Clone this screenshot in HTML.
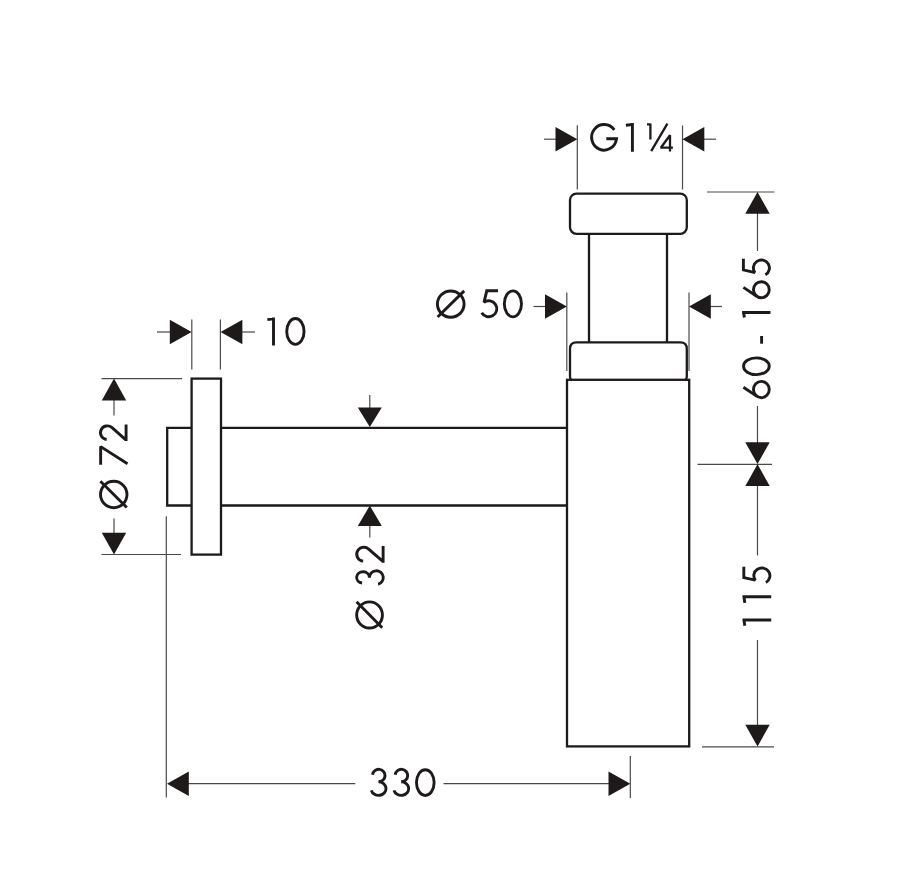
<!DOCTYPE html>
<html><head><meta charset="utf-8"><style>
html,body{margin:0;padding:0;background:#fff;width:916px;height:882px;overflow:hidden;font-family:"Liberation Sans",sans-serif;}
svg{display:block}
</style></head><body>
<svg width="916" height="882" viewBox="0 0 916 882">
<rect width="916" height="882" fill="#fff"/>
<g stroke="#4a4a4a" fill="none" stroke-linecap="butt"><line x1="577.30" y1="125.30" x2="577.30" y2="189.50" stroke-width="1.20"/>
<line x1="682.50" y1="125.50" x2="682.50" y2="189.50" stroke-width="1.20"/>
<line x1="544.00" y1="139.20" x2="560.00" y2="139.20" stroke-width="1.20"/>
<line x1="700.00" y1="139.20" x2="716.00" y2="139.20" stroke-width="1.20"/>
<line x1="566.80" y1="292.50" x2="566.80" y2="371.00" stroke-width="1.20"/>
<line x1="689.00" y1="292.50" x2="689.00" y2="371.00" stroke-width="1.20"/>
<line x1="533.50" y1="306.50" x2="550.00" y2="306.50" stroke-width="1.20"/>
<line x1="705.00" y1="306.50" x2="722.00" y2="306.50" stroke-width="1.20"/>
<line x1="707.00" y1="192.00" x2="774.50" y2="192.00" stroke-width="1.20"/>
<line x1="757.50" y1="205.00" x2="757.50" y2="251.00" stroke-width="1.20"/>
<line x1="757.50" y1="406.00" x2="757.50" y2="450.00" stroke-width="1.20"/>
<line x1="697.50" y1="464.30" x2="772.00" y2="464.30" stroke-width="1.20"/>
<line x1="757.50" y1="480.00" x2="757.50" y2="555.50" stroke-width="1.20"/>
<line x1="757.50" y1="640.00" x2="757.50" y2="735.00" stroke-width="1.20"/>
<line x1="702.00" y1="746.80" x2="774.00" y2="746.80" stroke-width="1.20"/>
<line x1="101.50" y1="378.60" x2="182.00" y2="378.60" stroke-width="1.20"/>
<line x1="101.50" y1="554.50" x2="181.00" y2="554.50" stroke-width="1.20"/>
<line x1="114.00" y1="390.00" x2="114.00" y2="415.50" stroke-width="1.20"/>
<line x1="114.00" y1="518.50" x2="114.00" y2="545.00" stroke-width="1.20"/>
<line x1="191.80" y1="319.50" x2="191.80" y2="369.60" stroke-width="1.20"/>
<line x1="220.40" y1="319.50" x2="220.40" y2="369.60" stroke-width="1.20"/>
<line x1="157.00" y1="332.00" x2="180.00" y2="332.00" stroke-width="1.20"/>
<line x1="230.00" y1="332.00" x2="255.00" y2="332.00" stroke-width="1.20"/>
<line x1="369.80" y1="395.00" x2="369.80" y2="415.00" stroke-width="1.20"/>
<line x1="369.80" y1="515.00" x2="369.80" y2="537.50" stroke-width="1.20"/>
<line x1="166.30" y1="516.30" x2="166.30" y2="797.50" stroke-width="1.20"/>
<line x1="630.30" y1="756.00" x2="630.30" y2="798.00" stroke-width="1.20"/>
<line x1="180.00" y1="783.70" x2="355.30" y2="783.70" stroke-width="1.20"/>
<line x1="443.50" y1="783.70" x2="620.00" y2="783.70" stroke-width="1.20"/></g>
<g fill="#1e1a1a" stroke="none"><polygon points="577.30,139.20 555.50,127.00 555.50,151.40"/>
<polygon points="682.50,139.20 704.30,127.00 704.30,151.40"/>
<polygon points="566.80,306.50 545.00,294.30 545.00,318.70"/>
<polygon points="689.00,306.50 710.80,294.30 710.80,318.70"/>
<polygon points="757.50,192.00 745.30,213.80 769.70,213.80"/>
<polygon points="757.50,464.00 745.30,442.20 769.70,442.20"/>
<polygon points="757.50,464.20 745.30,486.00 769.70,486.00"/>
<polygon points="757.50,746.50 745.30,724.70 769.70,724.70"/>
<polygon points="114.00,378.60 101.80,400.40 126.20,400.40"/>
<polygon points="114.00,554.50 101.80,532.70 126.20,532.70"/>
<polygon points="191.60,332.00 169.80,319.80 169.80,344.20"/>
<polygon points="220.60,332.00 242.40,319.80 242.40,344.20"/>
<polygon points="369.80,427.00 357.80,407.50 381.80,407.50"/>
<polygon points="369.80,505.60 357.80,526.10 381.80,526.10"/>
<polygon points="167.00,783.70 188.80,771.50 188.80,795.90"/>
<polygon points="630.30,783.70 608.50,771.50 608.50,795.90"/></g>
<g stroke="#1e1a1a" fill="none" stroke-width="2.3" stroke-linejoin="miter"><rect x="570.0" y="193.6" width="116.8" height="40.2" rx="6.5" ry="6.5"/>
<path d="M589.0,233.8 L589.0,342.4 M667.0,233.8 L667.0,342.4"/>
<path d="M572,380 Q570,380 570,376 L570,348.9 Q570,342.4 576.5,342.4 L680.3,342.4 Q686.8,342.4 686.8,348.9 L686.8,376 Q686.8,380 684.8,380"/>
<rect x="567.0" y="379.8" width="122.2" height="366.6"/>
<rect x="191.6" y="378.6" width="29.4" height="176.0"/>
<path d="M191.6,427.8 L167.2,427.8 L167.2,505.5 L191.6,505.5"/>
<path d="M221,427.8 L567,427.8 M221,505.5 L567,505.5"/></g>
<g stroke="#1e1a1a" fill="none" stroke-width="2.9" stroke-linecap="butt" stroke-linejoin="miter" stroke-miterlimit="1.6"><path d="M614.28,129.86 A12.50,12.81 0 1 0 616.51,138.82 L606.30,138.82"/>
<path d="M632.42,123.00 L632.42,151.70 M625.92,125.31 L632.42,124.46"/>
<path stroke-width="2.3" d="M647.0,124.4 L650.4,124.4 M650.4,123.4 L650.4,139.6 M667.4,123.6 L651.2,151.2 M670.0,151.4 L670.0,135.2 L660.8,147.7 M660.3,147.7 L672.9,147.7"/>
<path d="M437.62,317.00 L464.19,290.90"/><ellipse cx="450.75" cy="304.10" rx="13.34" ry="13.10"/>
<path d="M498.00,290.80 L486.78,290.80 L483.98,302.30 A8.09,8.00 0 1 1 481.70,312.80"/>
<ellipse cx="512.90" cy="303.85" rx="8.59" ry="12.98"/>
<path d="M273.50,317.40 L273.50,345.50 M267.40,319.66 L273.50,318.82"/>
<ellipse cx="295.40" cy="331.45" rx="8.67" ry="12.89"/>
<path d="M372.56,774.68 A6.25,6.25 0 1 1 378.75,781.80 M378.50,781.80 A7.50,6.80 0 1 1 371.26,790.36"/>
<path d="M395.26,774.68 A6.25,6.25 0 1 1 401.45,781.80 M401.20,781.80 A7.50,6.80 0 1 1 393.96,790.36"/>
<ellipse cx="425.30" cy="782.60" rx="8.84" ry="12.85"/>
<g transform="translate(99.20,509.00) rotate(-90)"><path d="M1.50,27.58 L27.80,1.22"/><ellipse cx="14.50" cy="14.55" rx="13.20" ry="13.23"/><path d="M44.20,1.45 L62.39,1.45 L45.21,28.30"/><path d="M69.50,7.49 A6.84,6.93 0 1 1 81.37,12.86 L68.88,26.87 M67.90,26.87 L84.50,26.87"/></g>
<g transform="translate(355.40,629.30) rotate(-90)"><path d="M1.48,26.82 L27.51,1.18"/><ellipse cx="14.35" cy="14.15" rx="13.06" ry="12.87"/><path d="M46.24,6.72 A5.70,6.38 0 1 1 51.89,13.99 M51.66,13.99 A6.84,6.94 0 1 1 45.05,22.73"/><path d="M68.22,7.73 A6.92,7.15 0 1 1 80.23,13.27 L67.59,27.72 M66.60,27.72 L83.40,27.72"/></g>
<g transform="translate(742.10,399.00) rotate(-90)"><path d="M11.80,1.30 L2.62,14.94"/><ellipse cx="9.45" cy="19.25" rx="8.15" ry="7.90"/><ellipse cx="32.75" cy="14.30" rx="8.37" ry="12.85"/><path d="M55.30,19.50 L63.00,19.50"/><path d="M86.45,0.00 L86.45,28.40 M81.54,2.28 L86.45,1.44"/><path d="M111.61,1.30 L102.58,14.94"/><ellipse cx="109.30" cy="19.25" rx="8.02" ry="7.90"/><path d="M140.20,1.30 L129.16,1.30 L126.41,12.80 A7.96,8.00 0 1 1 124.16,23.30"/></g>
<g transform="translate(742.50,626.00) rotate(-90)"><path d="M6.07,0.00 L6.07,28.70 M0.28,2.31 L6.07,1.46"/><path d="M29.20,0.00 L29.20,28.70 M23.10,2.31 L29.20,1.46"/><path d="M59.20,1.30 L48.46,1.30 L45.79,12.85 A7.74,8.03 0 1 1 43.60,23.38"/></g></g>
</svg>
</body></html>
